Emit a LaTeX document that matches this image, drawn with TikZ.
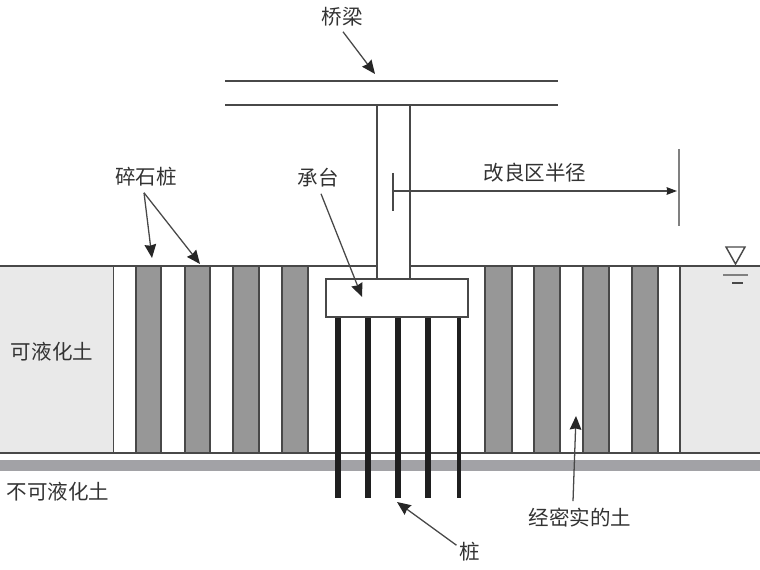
\documentclass[tikz,border=0pt]{standalone}
\usepackage{fontspec}
\setmainfont[Scale=1]{Noto Sans CJK SC}
\usetikzlibrary{arrows.meta}
\definecolor{linegray}{HTML}{484848}
\definecolor{stonegray}{HTML}{979797}
\definecolor{soilgray}{HTML}{E9E9E9}
\definecolor{bandgray}{HTML}{A2A2A6}
\tikzset{
  outline/.style={draw=linegray,line width=0.036cm},
  label/.style={inner sep=0pt,text=black!80,font=\fontsize{14.6}{17}\selectfont},
  pointer/.style={draw=linegray,line width=0.032cm,-{Stealth[length=0.34cm,width=0.29cm,inset=0.03cm,color=black!85]}}
}
\begin{document}
\begin{tikzpicture}[x=0.025cm,y=-0.025cm]
            \useasboundingbox (0,0) rectangle (760,570);
            % Soil outside the improved zone
            \fill [soilgray] (0,266) rectangle (113,453);
            \fill [soilgray] (680,266) rectangle (760,453);
            \fill [bandgray] (0,460) rectangle (760,471);

            % Gravel columns
            \foreach \xa/\xb in {136/161,185/210,233/259,282/308,485/512,534/560,583/609,632/658}
              \draw [outline,fill=stonegray] (\xa,266) rectangle (\xb,453);

            % Ground and base lines
            \draw [outline] (0,266) -- (377,266);
            \draw [outline] (410,266) -- (760,266);
            \draw [outline] (0,453) -- (760,453);
            \draw [outline] (113.5,266) -- (113.5,453);
            \draw [outline] (680,266) -- (680,453);

            % Piles
            \foreach \xp/\wp in {338/0.16,368/0.16,398/0.16,428/0.16,459/0.11}
              \draw [line width=\wp cm,color=black!88] (\xp,317) -- (\xp,498);

            % Pile cap, pier and beam
            \draw [outline,fill=white] (326,279) rectangle (468,317);
            \draw [outline] (377,279) -- (377,105);
            \draw [outline] (410,279) -- (410,105);
            \draw [outline] (225,81) -- (558,81);
            \draw [outline] (225,105) -- (558,105);

            % Radius dimension
            \coordinate (radiusL) at (393,191);
            \coordinate (radiusR) at (677,191);
            \draw [outline] (393,173) -- (393,211);
            \draw [outline,draw=gray] (679,149) -- (679,226);
            \draw [draw=linegray,line width=0.032cm,-{Stealth[length=0.26cm,width=0.19cm,inset=0.02cm,color=black!85]}] (radiusL) -- (radiusR);

            % Water level mark
            \draw [outline] (726,247) -- (745,247) -- (735.5,264) -- cycle;
            \draw [outline,draw=gray] (723,275) -- (748,275);
            \draw [outline] (732,283) -- (743,283);

            % Labels
            \node [label] (beamText) at (342,17) {桥梁};
            \node [label] (gravelText) at (146,177) {碎石桩};
            \node [label] (capText) at (318,178) {承台};
            \node [label] (radiusText) at (535,173) {改良区半径};
            \node [label] (liquefiableText) at (52,352) {可液化土};
            \node [label] (stableText) at (58,492) {不可液化土};
            \node [label] (pileText) at (470,552) {桩};
            \node [label] (denseText) at (580,518) {经密实的土};

            % Pointers
            \coordinate (beamEnd) at (375,74);
            \coordinate (gravelA) at (152,258);
            \coordinate (gravelB) at (200,264);
            \coordinate (capEnd) at (362,297);
            \coordinate (pileEnd) at (397,502);
            \coordinate (denseEnd) at (576,416);
            \draw [pointer] (beamText.south) ++(1,5) -- (beamEnd);
            \draw [pointer] (gravelText.south) ++(-2,6) -- (gravelA);
            \draw [pointer] (gravelText.south) ++(-2,6) -- (gravelB);
            \draw [pointer] (capText.south) ++(3,6) -- (capEnd);
            \draw [pointer] (pileText.north west) ++(-3,3) -- (pileEnd);
            \draw [pointer] (denseText.north) ++(-7,-7) -- (denseEnd);
\end{tikzpicture}
\end{document}
